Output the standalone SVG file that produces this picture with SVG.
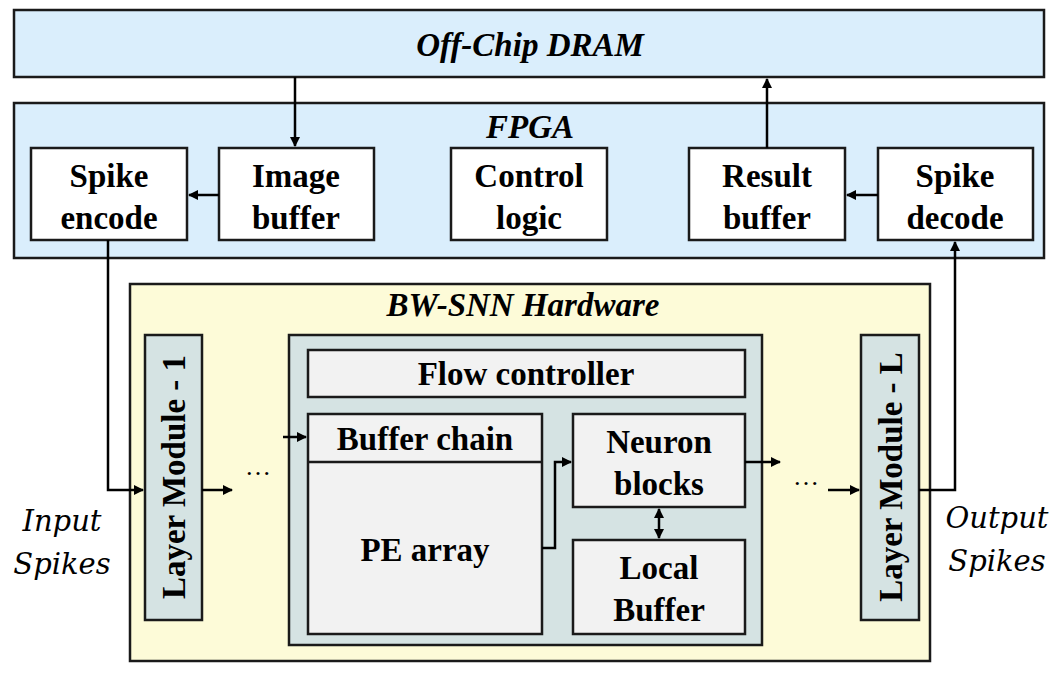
<svg xmlns="http://www.w3.org/2000/svg" width="1060" height="673" viewBox="0 0 1060 673">
<style>
.b{stroke:#1a1a1a;stroke-width:2.5}
.t{font-family:"Liberation Serif","Times New Roman",serif;font-weight:bold;font-size:33px;text-anchor:middle;fill:#000}
.i{font-style:italic}
.n{font-family:"DejaVu Serif","Liberation Serif",serif;font-style:italic;font-size:29px;text-anchor:middle}
.c{fill:none;stroke:#000;stroke-width:2.5}
</style>
<defs><marker id="a" markerWidth="10" markerHeight="10" refX="9" refY="5" orient="auto-start-reverse" markerUnits="userSpaceOnUse"><path d="M0,0L10,5L0,10z"/></marker></defs>
<rect width="1060" height="673" fill="#fff"/>
<g id="dram"><rect class="b" x="14" y="10" width="1030" height="67" fill="#daeefc"/><text class="t i" x="530" y="56">Off-Chip DRAM</text></g>
<g id="fpga"><rect class="b" x="14" y="103" width="1030" height="155" fill="#daeefc"/><text class="t i" x="530" y="138">FPGA</text></g>
<g id="enc"><rect class="b" x="31" y="148" width="156" height="92" fill="#fff"/><text class="t" x="109" y="187">Spike</text><text class="t" x="109" y="229">encode</text></g>
<g id="img"><rect class="b" x="219" y="148" width="155" height="92" fill="#fff"/><text class="t" x="296" y="187">Image</text><text class="t" x="296" y="229">buffer</text></g>
<g id="ctl"><rect class="b" x="451" y="148" width="156" height="92" fill="#fff"/><text class="t" x="529" y="187">Control</text><text class="t" x="529" y="229">logic</text></g>
<g id="res"><rect class="b" x="689" y="148" width="156" height="92" fill="#fff"/><text class="t" x="767" y="187">Result</text><text class="t" x="767" y="229">buffer</text></g>
<g id="dec"><rect class="b" x="878" y="148" width="155" height="92" fill="#fff"/><text class="t" x="955" y="187">Spike</text><text class="t" x="955" y="229">decode</text></g>
<g id="snn"><rect class="b" x="130" y="284" width="800" height="377" fill="#fdfbd8"/><text class="t i" x="523" y="316">BW-SNN Hardware</text></g>
<g id="lm1"><rect class="b" x="145" y="335" width="57" height="285" fill="#d5e3e3"/><text class="t" transform="translate(185,477) rotate(-90)">Layer Module - 1</text></g>
<g id="core"><rect class="b" x="289" y="335" width="473" height="310" fill="#d5e3e3"/></g>
<g id="flow"><rect class="b" x="308" y="350" width="437" height="47" fill="#f2f2f2"/><text class="t" x="526" y="385">Flow controller</text></g>
<g id="pe"><rect class="b" x="308" y="414" width="234" height="220" fill="#f2f2f2"/><line class="b" x1="308" y1="462" x2="542" y2="462"/><text class="t" x="425" y="450">Buffer chain</text><text class="t" x="425" y="561">PE array</text></g>
<g id="neu"><rect class="b" x="573" y="414" width="172" height="93" fill="#f2f2f2"/><text class="t" x="659" y="453">Neuron</text><text class="t" x="659" y="495">blocks</text></g>
<g id="lb"><rect class="b" x="573" y="540" width="172" height="94" fill="#f2f2f2"/><text class="t" x="659" y="579">Local</text><text class="t" x="659" y="621">Buffer</text></g>
<g id="lml"><rect class="b" x="861" y="335" width="58" height="285" fill="#d5e3e3"/><text class="t" transform="translate(902,477) rotate(-90)">Layer Module - L</text></g>
<g id="connectors">
<path class="c" d="M295,77V146" marker-end="url(#a)"/>
<path class="c" d="M767,148V79" marker-end="url(#a)"/>
<path class="c" d="M219,195H189" marker-end="url(#a)"/>
<path class="c" d="M878,195H847" marker-end="url(#a)"/>
<path class="c" d="M108,240V490H143" marker-end="url(#a)"/>
<path class="c" d="M202,490H232" marker-end="url(#a)"/>
<path class="c" d="M283,437H306" marker-end="url(#a)"/>
<path class="c" d="M542,548H555V462H571" marker-end="url(#a)"/>
<path class="c" d="M745,462H780" marker-end="url(#a)"/>
<path class="c" d="M828,490H859" marker-end="url(#a)"/>
<path class="c" d="M919,490H955V242" marker-end="url(#a)"/>
<path class="c" d="M659,509V538" marker-start="url(#a)" marker-end="url(#a)"/>
</g>
<text x="258" y="475" font-family="Liberation Serif,serif" font-size="26" text-anchor="middle">…</text>
<text x="806" y="485" font-family="Liberation Serif,serif" font-size="26" text-anchor="middle">…</text>
<text class="n" x="62" y="531">Input</text><text class="n" x="62" y="574">Spikes</text>
<text class="n" x="997" y="528">Output</text><text class="n" x="997" y="571">Spikes</text>
</svg>
